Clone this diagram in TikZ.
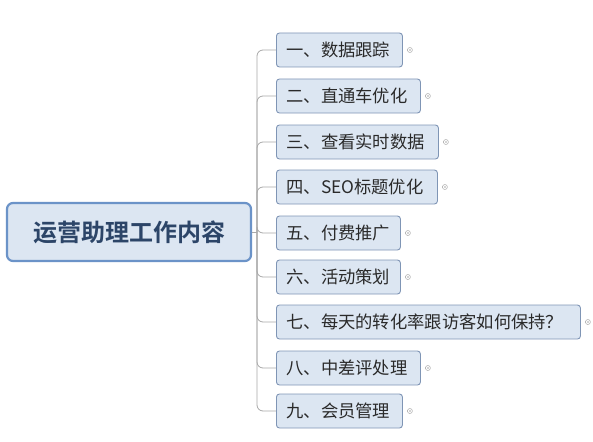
\documentclass[tikz,border=0pt]{standalone}
\usepackage{fontspec}
\newfontfamily\cjk[BoldFont={Noto Sans CJK SC Bold}]{Noto Sans CJK SC}
\definecolor{boxfill}{HTML}{DCE6F2}
\definecolor{boxline}{HTML}{7F95B5}
\definecolor{rootline}{HTML}{6B93C8}
\definecolor{roottext}{HTML}{2C4568}
\definecolor{linkcol}{HTML}{A8A8A8}
\definecolor{txtcol}{HTML}{2A2A2A}
\tikzset{
  rootbox/.style={draw=rootline, line width=2.2pt, fill=boxfill, rounded corners=6pt,
    minimum width=244pt, minimum height=58pt, inner sep=0pt,
    font=\cjk\bfseries\fontsize{24}{24}\selectfont, text=roottext},
  childbox/.style={draw=boxline, line width=0.9pt, fill=boxfill, rounded corners=3pt,
    anchor=west, minimum height=34pt, text width=#1pt, inner xsep=10pt, inner ysep=0pt, align=left,
    font=\cjk\fontsize{17.3}{17.3}\selectfont, text=txtcol},
  marker/.style={circle, draw=linkcol, line width=0.5pt, fill=white, minimum size=5pt, inner sep=0pt},
  link/.style={draw=linkcol, line width=0.8pt, rounded corners=6pt}
}
\begin{document}
\begin{tikzpicture}[x=1pt,y=-1pt]
\useasboundingbox (0,0) rectangle (593,441);
\node[rootbox] (root) at (129,232) {运营助理工作内容};
\coordinate (hub) at (257,232);
\node[childbox=106] (c1) at (276,50) {一、数据跟踪};
\node[childbox=124] (c2) at (276,96) {二、直通车优化};
\node[childbox=142] (c3) at (276,142) {三、查看实时数据};
\node[childbox=141] (c4) at (276,187) {四、SEO标题优化};
\node[childbox=104] (c5) at (276,233) {五、付费推广};
\node[childbox=104] (c6) at (276,277) {六、活动策划};
\node[childbox=284] (c7) at (276,322) {七、每天的转化率跟访客如何保持？};
\node[childbox=124] (c8) at (276,368) {八、中差评处理};
\node[childbox=106] (c9) at (276,411) {九、会员管理};
\draw[link] (root.east) -- (hub);
\foreach \c in {c1,c2,c3,c4,c5,c6,c7,c8,c9}{
  \draw[link] (hub) |- (\c.west);
  \node[marker] (m\c) at ([xshift=7pt]\c.east) {};
  \fill[linkcol] (m\c.center) circle (0.9pt);
}
\end{tikzpicture}
\end{document}
